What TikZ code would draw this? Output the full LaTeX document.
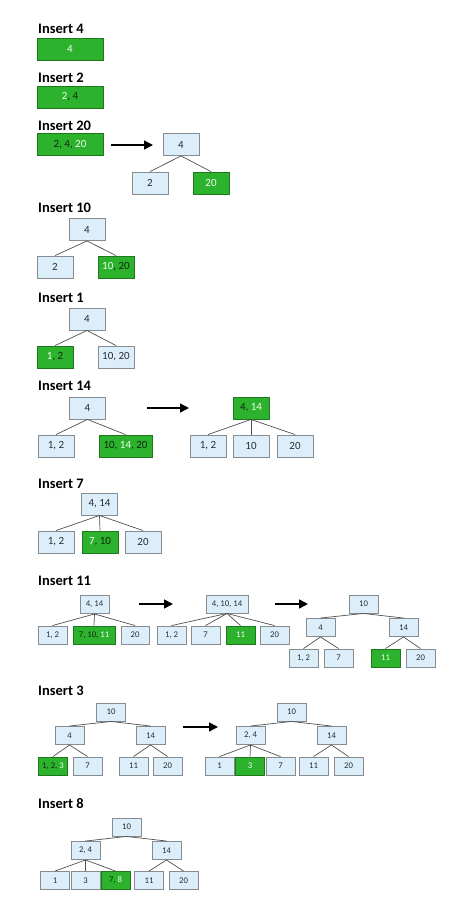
\documentclass[tikz,border=0pt]{standalone}
\usepackage{fontspec}
\setmainfont{Carlito}
\usetikzlibrary{arrows.meta}
\definecolor{grn}{RGB}{44,178,44}
\definecolor{gbord}{RGB}{30,120,30}
\definecolor{gtxt}{RGB}{15,40,15}
\definecolor{wt}{RGB}{240,255,240}
\definecolor{lbfill}{RGB}{221,238,251}
\definecolor{bordc}{RGB}{135,140,145}
\definecolor{txt}{RGB}{40,45,50}
\definecolor{edgec}{RGB}{80,80,80}
\newcommand\W[1]{\textcolor{wt}{#1}}
\tikzset{
  lb/.style={draw=bordc, fill=lbfill, text=txt, inner sep=0pt, line width=0.9pt},
  gb/.style={draw=gbord, fill=grn, text=gtxt, inner sep=0pt, line width=0.9pt},
  big/.style={minimum width=36pt, minimum height=22pt, font=\fontsize{11}{13}\selectfont},
  sm/.style={minimum width=29pt, minimum height=18pt, font=\fontsize{8.7}{10}\selectfont},
  ttl/.style={anchor=base west, inner sep=0pt, font=\bfseries\fontsize{14.5}{17}\selectfont},
  edge/.style={draw=edgec, line width=0.7pt},
  arr/.style={line width=1.4pt, -{Triangle[length=9pt,width=9pt]}}
}
\begin{document}
\begin{tikzpicture}[x=1pt,y=-1pt]
\useasboundingbox (0,0) rectangle (474,914);
% Insert 4
\node[ttl] (t1) at (38,33) {Insert 4};
\node[gb,big,minimum width=66pt] (a1) at (70,49) {\W{4}};
% Insert 2
\node[ttl] (t2) at (38,82) {Insert 2};
\node[gb,big,minimum width=66pt] (a2) at (70,97) {\W{2}, 4};
% Insert 20
\node[ttl] (t3) at (38,130) {Insert 20};
\node[gb,big,minimum width=66pt] (a3) at (70,144.5) {2, 4, \W{20}};
\coordinate (p1s) at (111,145); \coordinate (p1e) at (153,145);
\draw[arr] (p1s) -- (p1e);
\node[lb,big] (b1) at (181,144.5) {4};
\node[lb,big] (b2) at (150,183) {2};
\node[gb,big] (b3) at (211,183) {\W{20}};
\draw[edge] (b1.south) -- (b2.north);
\draw[edge] (b1.south) -- (b3.north);
% Insert 10
\node[ttl] (t4) at (38,212) {Insert 10};
\node[lb,big] (c1) at (87,229.5) {4};
\node[lb,big] (c2) at (55,267) {2};
\node[gb,big] (c3) at (116,267) {\W{10}, 20};
\draw[edge] (c1.south) -- (c2.north);
\draw[edge] (c1.south) -- (c3.north);
% Insert 1
\node[ttl] (t5) at (38,302) {Insert 1};
\node[lb,big] (d1) at (87,319) {4};
\node[gb,big] (d2) at (55,357) {\W{1}, 2};
\node[lb,big] (d3) at (116,357) {10, 20};
\draw[edge] (d1.south) -- (d2.north);
\draw[edge] (d1.south) -- (d3.north);
% Insert 14
\node[ttl] (t6) at (38,390) {Insert 14};
\node[lb,big] (e1) at (87.5,408) {4};
\node[lb,big] (e2) at (56,446) {1, 2};
\node[gb,big,minimum width=53pt] (e3) at (125.5,446) {10, \W{14}, 20};
\draw[edge] (e1.south) -- (e2.north);
\draw[edge] (e1.south) -- (e3.north);
\coordinate (p2s) at (147,408); \coordinate (p2e) at (189,408);
\draw[arr] (p2s) -- (p2e);
\node[gb,big] (f1) at (251,408) {4, \W{14}};
\node[lb,big] (f2) at (208,446) {1, 2};
\node[lb,big] (f3) at (251,446) {10};
\node[lb,big] (f4) at (295,446) {20};
\foreach \c in {f2,f3,f4} \draw[edge] (f1.south) -- (\c.north);
% Insert 7
\node[ttl] (t7) at (38,488) {Insert 7};
\node[lb,big] (g1) at (99.5,504) {4, 14};
\node[lb,big] (g2) at (56,542) {1, 2};
\node[gb,big] (g3) at (100,542) {\W{7}, 10};
\node[lb,big] (g4) at (143,542) {20};
\foreach \c in {g2,g3,g4} \draw[edge] (g1.south) -- (\c.north);
% Insert 11
\node[ttl] (t8) at (38,585) {Insert 11};
\node[lb,sm] (h1) at (94.5,604.5) {4, 14};
\node[lb,sm] (h2) at (52.5,635) {1, 2};
\node[gb,sm,minimum width=42pt] (h3) at (94,635) {7, 10, \W{11}};
\node[lb,sm,minimum width=28pt] (h4) at (135,635) {20};
\foreach \c in {h2,h3,h4} \draw[edge] (h1.south) -- (\c.north);
\coordinate (p3s) at (139,604); \coordinate (p3e) at (173,604);
\draw[arr] (p3s) -- (p3e);
\node[lb,sm,minimum width=42pt] (i1) at (227,604) {4, 10, 14};
\node[lb,sm] (i2) at (171.5,635) {1, 2};
\node[lb,sm] (i3) at (205.5,635) {7};
\node[gb,sm] (i4) at (240.5,635) {\W{11}};
\node[lb,sm] (i5) at (274.5,635) {20};
\foreach \c in {i2,i3,i4,i5} \draw[edge] (i1.south) -- (\c.north);
\coordinate (p4s) at (275,604); \coordinate (p4e) at (308,604);
\draw[arr] (p4s) -- (p4e);
\node[lb,sm] (j1) at (363.5,604) {10};
\node[lb,sm] (j2) at (320.5,627.5) {4};
\node[lb,sm] (j3) at (403.5,627.5) {14};
\node[lb,sm] (j4) at (303.5,658) {1, 2};
\node[lb,sm] (j5) at (338.5,658) {7};
\node[gb,sm] (j6) at (385.5,658) {\W{11}};
\node[lb,sm] (j7) at (420.5,658) {20};
\draw[edge] (j1.south) -- (j2.north);
\draw[edge] (j1.south) -- (j3.north);
\draw[edge] (j2.south) -- (j4.north);
\draw[edge] (j2.south) -- (j5.north);
\draw[edge] (j3.south) -- (j6.north);
\draw[edge] (j3.south) -- (j7.north);
% Insert 3
\node[ttl] (t9) at (38,695) {Insert 3};
\node[lb,sm] (k1) at (111,712) {10};
\node[lb,sm] (k2) at (69.5,735.5) {4};
\node[lb,sm] (k3) at (150.5,735.5) {14};
\node[gb,sm] (k4) at (53,766) {1, 2, \W{3}};
\node[lb,sm] (k5) at (87.5,766) {7};
\node[lb,sm] (k6) at (133.5,766) {11};
\node[lb,sm] (k7) at (167.5,766) {20};
\draw[edge] (k1.south) -- (k2.north);
\draw[edge] (k1.south) -- (k3.north);
\draw[edge] (k2.south) -- (k4.north);
\draw[edge] (k2.south) -- (k5.north);
\draw[edge] (k3.south) -- (k6.north);
\draw[edge] (k3.south) -- (k7.north);
\coordinate (p5s) at (183,727); \coordinate (p5e) at (218,727);
\draw[arr] (p5s) -- (p5e);
\node[lb,sm] (l1) at (291.5,712) {10};
\node[lb,sm] (l2) at (250.5,735.5) {2, 4};
\node[lb,sm] (l3) at (331.5,735.5) {14};
\node[lb,sm] (l4) at (219.5,766) {1};
\node[gb,sm] (l5) at (250,766) {\W{3}};
\node[lb,sm] (l6) at (280.5,766) {7};
\node[lb,sm] (l7) at (313.5,766) {11};
\node[lb,sm] (l8) at (348.5,766) {20};
\draw[edge] (l1.south) -- (l2.north);
\draw[edge] (l1.south) -- (l3.north);
\foreach \c in {l4,l5,l6} \draw[edge] (l2.south) -- (\c.north);
\draw[edge] (l3.south) -- (l7.north);
\draw[edge] (l3.south) -- (l8.north);
% Insert 8
\node[ttl] (t10) at (38,808) {Insert 8};
\node[lb,sm] (m1) at (126.5,827) {10};
\node[lb,sm] (m2) at (85.5,850.5) {2, 4};
\node[lb,sm] (m3) at (166.5,850.5) {14};
\node[lb,sm] (m4) at (55,880.5) {1};
\node[lb,sm] (m5) at (85.5,880.5) {3};
\node[gb,sm] (m6) at (115.5,880.5) {7, \W{8}};
\node[lb,sm] (m7) at (149,880.5) {11};
\node[lb,sm] (m8) at (183.5,880.5) {20};
\draw[edge] (m1.south) -- (m2.north);
\draw[edge] (m1.south) -- (m3.north);
\foreach \c in {m4,m5,m6} \draw[edge] (m2.south) -- (\c.north);
\draw[edge] (m3.south) -- (m7.north);
\draw[edge] (m3.south) -- (m8.north);
\end{tikzpicture}
\end{document}
